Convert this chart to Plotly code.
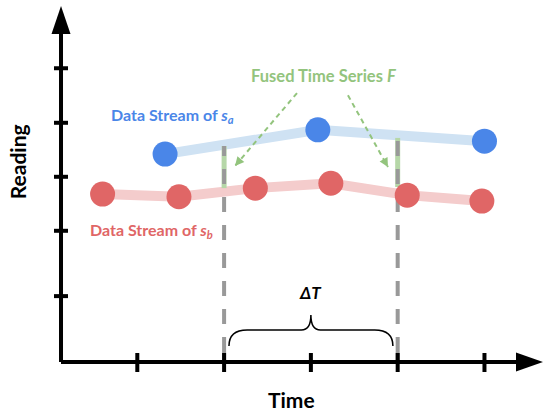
import plotly.graph_objects as go

# sensor a / sensor b readings (time units, reading units)
time_a = [1.32, 3.08, 5.0]
read_a = [3.85, 4.30, 4.09]
time_b = [0.60, 1.48, 2.36, 3.23, 4.11, 4.97]
read_b = [3.11, 3.06, 3.22, 3.31, 3.09, 2.98]

# fused time series F sampled every delta T
fused_t = [2.0, 4.0]
fused_lo = [3.22, 3.24]
fused_hi = [4.00, 4.15]

x_ticks = [1, 2, 3, 4, 5]
y_ticks = [1.22, 2.43, 3.43, 4.43, 5.44]

BLUE, BLUE_L = "#4a86e8", "#cfe2f3"
RED, RED_L = "#e06666", "#f4cccc"
GREEN, GREEN_L = "#93c47d", "#b6d7a8"
GRAY = "#999999"
FONT = "Lato"

# axis geometry (data units)
x0, y0 = 0.121, 0.0
x_end, x_tip = 5.386, 5.674
y_end, y_tip = 6.11, 6.593
px_t, px_r = 1 / 86.8, 1 / 54.0   # one pixel in data units

# dash pattern drawn from the axis upwards (first dash sits under the tick)
gray_dash = ",".join(["25px", "13px"] + ["15px", "13px"] * 8)

fig = go.Figure()

# series lines
fig.add_trace(go.Scatter(x=time_a, y=read_a, mode="lines",
                         line=dict(color=BLUE_L, width=10), hoverinfo="skip"))
fig.add_trace(go.Scatter(x=time_b, y=read_b, mode="lines",
                         line=dict(color=RED_L, width=10), hoverinfo="skip"))

# fused segments + dashed time markers
for t, lo, hi in zip(fused_t, fused_lo, fused_hi):
    fig.add_trace(go.Scatter(x=[t, t], y=[lo, hi], mode="lines",
                             line=dict(color=GREEN_L, width=5), hoverinfo="skip"))
    fig.add_trace(go.Scatter(x=[t, t], y=[y0, hi], mode="lines",
                             line=dict(color=GRAY, width=4, dash=gray_dash),
                             hoverinfo="skip"))

# markers
fig.add_trace(go.Scatter(x=time_a, y=read_a, mode="markers",
                         marker=dict(color=BLUE, size=25, line=dict(width=0))))
fig.add_trace(go.Scatter(x=time_b, y=read_b, mode="markers",
                         marker=dict(color=RED, size=25, line=dict(width=0))))

shapes = []
# axes
shapes.append(dict(type="line", x0=x0, y0=y0, x1=x_end, y1=y0,
                   line=dict(color="black", width=4)))
shapes.append(dict(type="line", x0=x0, y0=y0, x1=x0, y1=y_end,
                   line=dict(color="black", width=4)))
hw_r, hw_t = 9.5 * px_r, 9.5 * px_t
shapes.append(dict(type="path", fillcolor="black", line=dict(width=0),
                   path=f"M {x_end - 2*px_t},{-hw_r} L {x_tip},0 L {x_end - 2*px_t},{hw_r} Z"))
shapes.append(dict(type="path", fillcolor="black", line=dict(width=0),
                   path=f"M {x0 - hw_t},{y_end - 2*px_r} L {x0},{y_tip} L {x0 + hw_t},{y_end - 2*px_r} Z"))
# ticks
for t in x_ticks:
    shapes.append(dict(type="line", x0=t, x1=t, y0=9 * px_r, y1=-10 * px_r,
                       line=dict(color="black", width=4)))
for r in y_ticks:
    shapes.append(dict(type="line", x0=x0 - 7 * px_t, x1=x0 + 7 * px_t, y0=r, y1=r,
                       line=dict(color="black", width=4)))

# brace under delta T
bl, br, bm = 2.056, 3.945, 3.0
yb, yh, yp = 0.296, 0.593, 0.87
shapes.append(dict(type="path", line=dict(color="black", width=1.5),
                   path=(f"M {bl},{yb} Q {bl},{yh} {bl + 0.21},{yh} "
                         f"L {bm - 0.11},{yh} Q {bm},{yh} {bm},{yp} "
                         f"Q {bm},{yh} {bm + 0.11},{yh} "
                         f"L {br - 0.21},{yh} Q {br},{yh} {br},{yb}")))

# green dashed pointers to F
arrows = [((2.84, 4.98), (2.126, 3.63)), ((3.427, 4.94), (3.888, 3.61))]
annotations = []
for (sx, sy), (ex, ey) in arrows:
    shapes.append(dict(type="line", x0=sx, y0=sy, x1=ex, y1=ey,
                       line=dict(color=GREEN, width=2, dash="5px,4px")))
    annotations.append(dict(x=ex, y=ey, ax=ex - (ex - sx) * 0.06, ay=ey - (ey - sy) * 0.06,
                            xref="x", yref="y", axref="x", ayref="y", text="",
                            showarrow=True, arrowhead=2, arrowsize=0.9,
                            arrowwidth=2, arrowcolor=GREEN))

annotations += [
    dict(x=1.411, y=4.556, text="Data Stream of <i>s</i><sub><i>a</i></sub>",
         font=dict(color=BLUE, size=16)),
    dict(x=1.158, y=2.444, text="Data Stream of <i>s</i><sub><i>b</i></sub>",
         font=dict(color=RED, size=16)),
    dict(x=3.151, y=5.296, text="Fused Time Series <i>F</i>",
         font=dict(color=GREEN, size=16.5)),
    dict(x=3.0, y=1.278, text="<i>ΔT</i>", font=dict(color="black", size=17)),
    dict(x=2.782, y=-0.70, text="Time", font=dict(color="black", size=21)),
    dict(x=-0.386, y=3.70, text="Reading", textangle=-90,
         font=dict(color="black", size=21)),
]
for a in annotations[len(arrows):]:
    a.update(xref="x", yref="y", showarrow=False, xanchor="center", yanchor="middle")
    a["text"] = "<b>" + a["text"] + "</b>"

fig.update_layout(
    width=550, height=414,
    margin=dict(l=0, r=0, t=0, b=0),
    paper_bgcolor="white", plot_bgcolor="white",
    showlegend=False,
    font=dict(family=FONT),
    xaxis=dict(range=[-0.582, 5.755], visible=False, fixedrange=True),
    yaxis=dict(range=[-0.963, 6.704], visible=False, fixedrange=True),
    shapes=shapes,
    annotations=annotations,
)

# page body has a default 8px margin; drop it so the figure sits at 0,0
fig.write_html("out.html", config={"displayModeBar": False},
               post_script="document.body.style.margin='0px';")
